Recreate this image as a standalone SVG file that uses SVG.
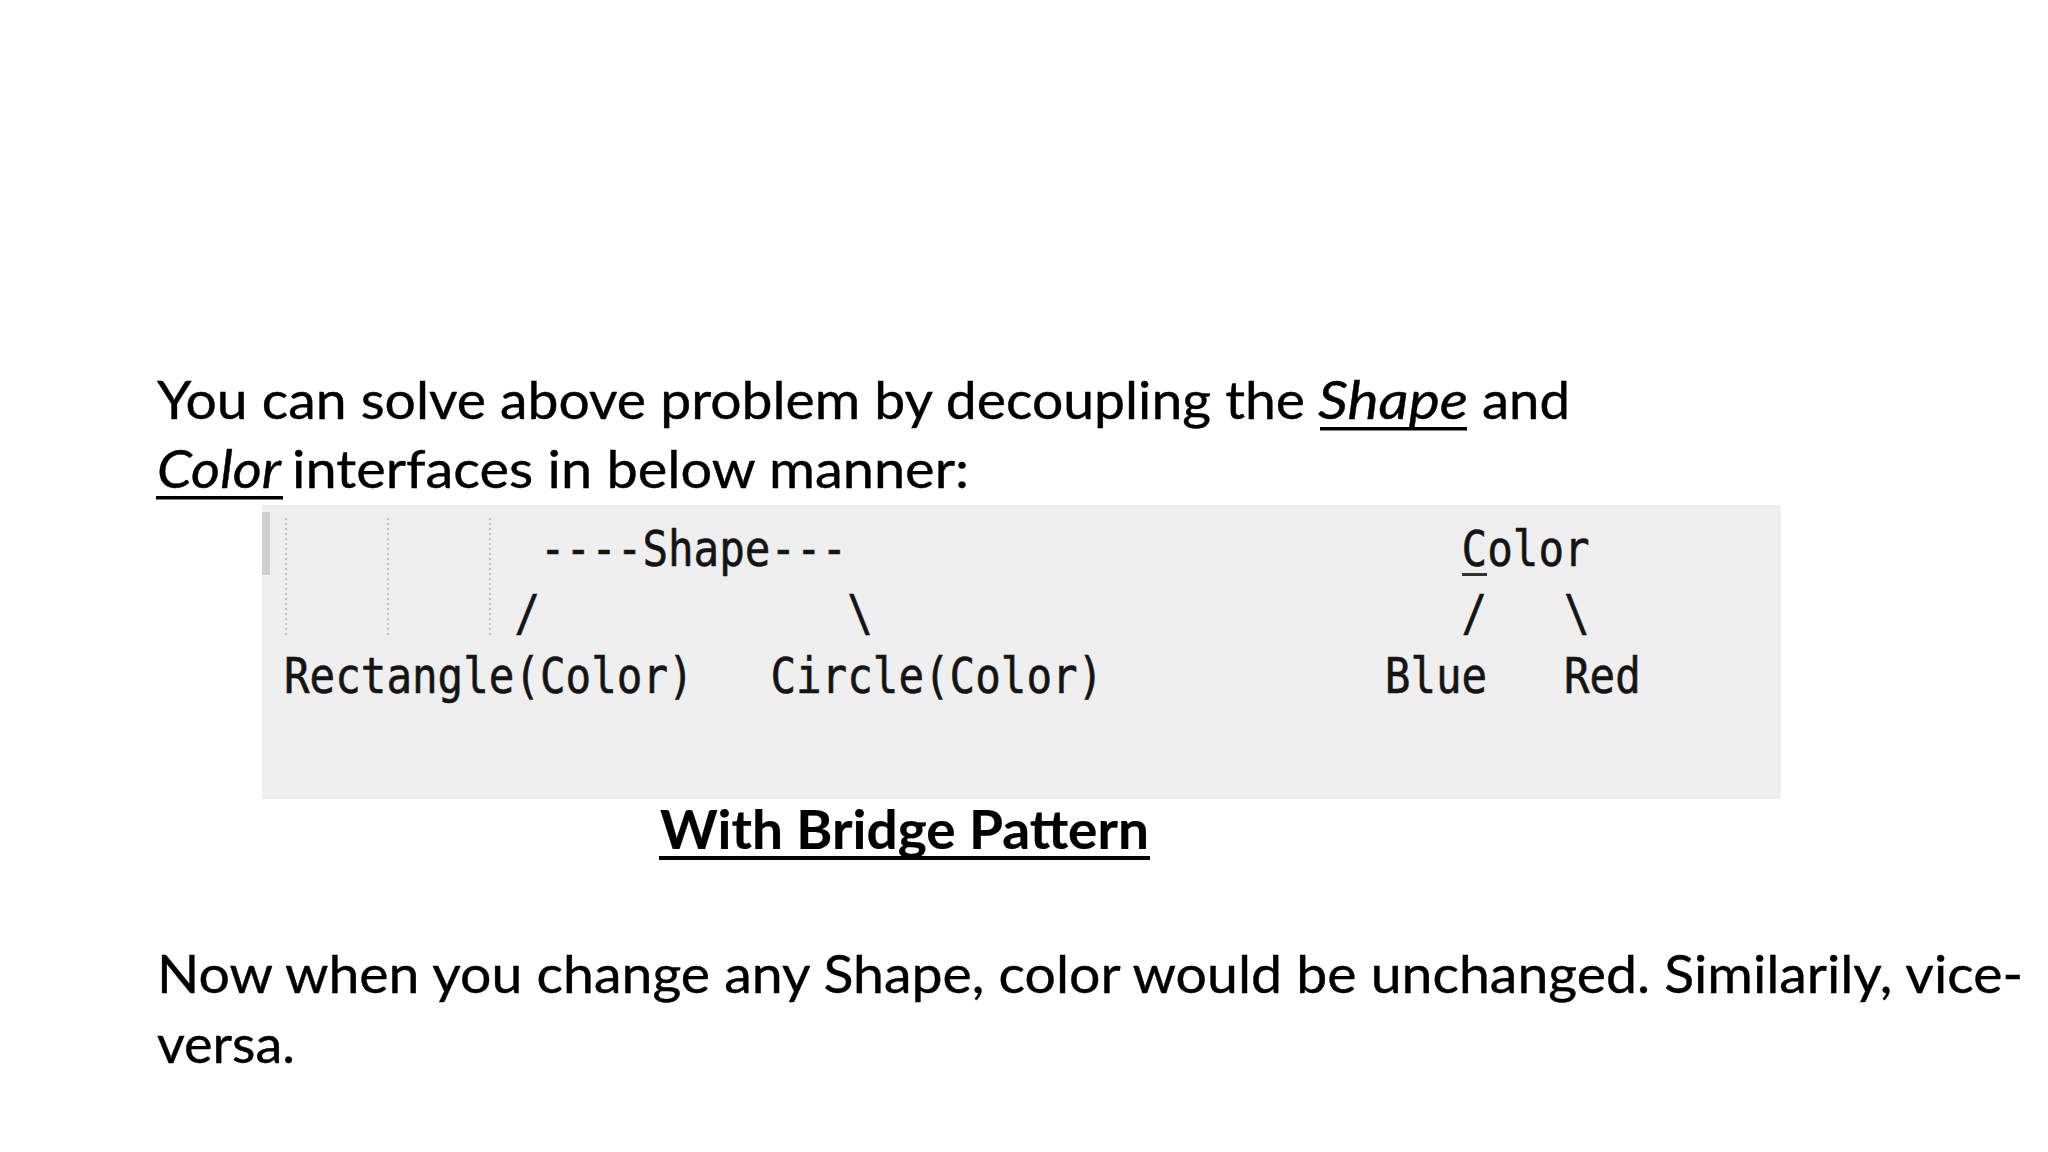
<svg xmlns="http://www.w3.org/2000/svg" width="2048" height="1152" viewBox="0 0 2048 1152">
  <style>
    .body { font-family: Lato, "Open Sans", "Liberation Sans", sans-serif; font-size: 52px; fill: #000; stroke: #000; stroke-width: 0.4px; }
    .ital { font-style: italic; }
    .bold { font-weight: bold; font-size: 53px; stroke-width: 0.2px; }
    .code { font-family: "DejaVu Sans Mono", "Liberation Mono", monospace; font-size: 49px; fill: #141414; stroke: #141414; stroke-width: 0.6px; }
    .uline { fill: #000; }
    .guide { stroke: #b4b4b4; stroke-width: 1.5; stroke-dasharray: 2 3; fill: none; }
  </style>
  <rect width="2048" height="1152" fill="#ffffff"/>

  <g id="intro-text">
    <text class="body" x="157" y="419" textLength="1148" lengthAdjust="spacingAndGlyphs">You can solve above problem by decoupling the</text>
    <text class="body ital" x="1318" y="419" textLength="150" lengthAdjust="spacingAndGlyphs">Shape</text>
    <rect class="uline" x="1320" y="427" width="147" height="3.5"/>
    <text class="body" x="1482" y="419" textLength="88" lengthAdjust="spacingAndGlyphs">and</text>
    <text class="body ital" x="157" y="488" textLength="124" lengthAdjust="spacingAndGlyphs">Color</text>
    <rect class="uline" x="156" y="496" width="127" height="3.5"/>
    <text class="body" x="292" y="488" textLength="677" lengthAdjust="spacingAndGlyphs">interfaces in below manner:</text>
  </g>

  <g id="code-box">
    <rect x="262" y="505" width="1519" height="294" fill="#efeff0"/>
    <rect x="262" y="512" width="8" height="63" fill="#cfcfcf"/>
    <line class="guide" x1="286" y1="518" x2="286" y2="637"/>
    <line class="guide" x1="388" y1="518" x2="388" y2="637"/>
    <line class="guide" x1="490" y1="518" x2="490" y2="637"/>
  </g>

  <g id="node-shape">
    <text class="code" x="540" y="566" textLength="307.2" lengthAdjust="spacingAndGlyphs">----Shape---</text>
  </g>
  <g id="node-color">
    <text class="code" x="1461.6" y="566" textLength="128" lengthAdjust="spacingAndGlyphs">Color</text>
    <rect x="1462" y="573" width="25" height="3" fill="#333"/>
  </g>

  <g id="connectors">
    <text class="code" x="514.4" y="630" textLength="25.6" lengthAdjust="spacingAndGlyphs">/</text>
    <text class="code" x="847.2" y="630" textLength="25.6" lengthAdjust="spacingAndGlyphs">\</text>
    <text class="code" x="1461.6" y="630" textLength="25.6" lengthAdjust="spacingAndGlyphs">/</text>
    <text class="code" x="1564" y="630" textLength="25.6" lengthAdjust="spacingAndGlyphs">\</text>
  </g>

  <g id="node-rectangle">
    <text class="code" x="284" y="693" textLength="409.6" lengthAdjust="spacingAndGlyphs">Rectangle(Color)</text>
  </g>
  <g id="node-circle">
    <text class="code" x="770.4" y="693" textLength="332.8" lengthAdjust="spacingAndGlyphs">Circle(Color)</text>
  </g>
  <g id="node-blue">
    <text class="code" x="1384.8" y="693" textLength="102.4" lengthAdjust="spacingAndGlyphs">Blue</text>
  </g>
  <g id="node-red">
    <text class="code" x="1564" y="693" textLength="76.8" lengthAdjust="spacingAndGlyphs">Red</text>
  </g>

  <g id="caption">
    <text class="body bold" x="660" y="849" textLength="489" lengthAdjust="spacingAndGlyphs">With Bridge Pattern</text>
    <rect class="uline" x="659" y="856" width="491" height="4"/>
  </g>

  <g id="conclusion-text">
    <text class="body" x="157" y="993" textLength="1866" lengthAdjust="spacingAndGlyphs">Now when you change any Shape, color would be unchanged. Similarily, vice-</text>
    <text class="body" x="157" y="1063" textLength="138" lengthAdjust="spacingAndGlyphs">versa.</text>
  </g>
</svg>
